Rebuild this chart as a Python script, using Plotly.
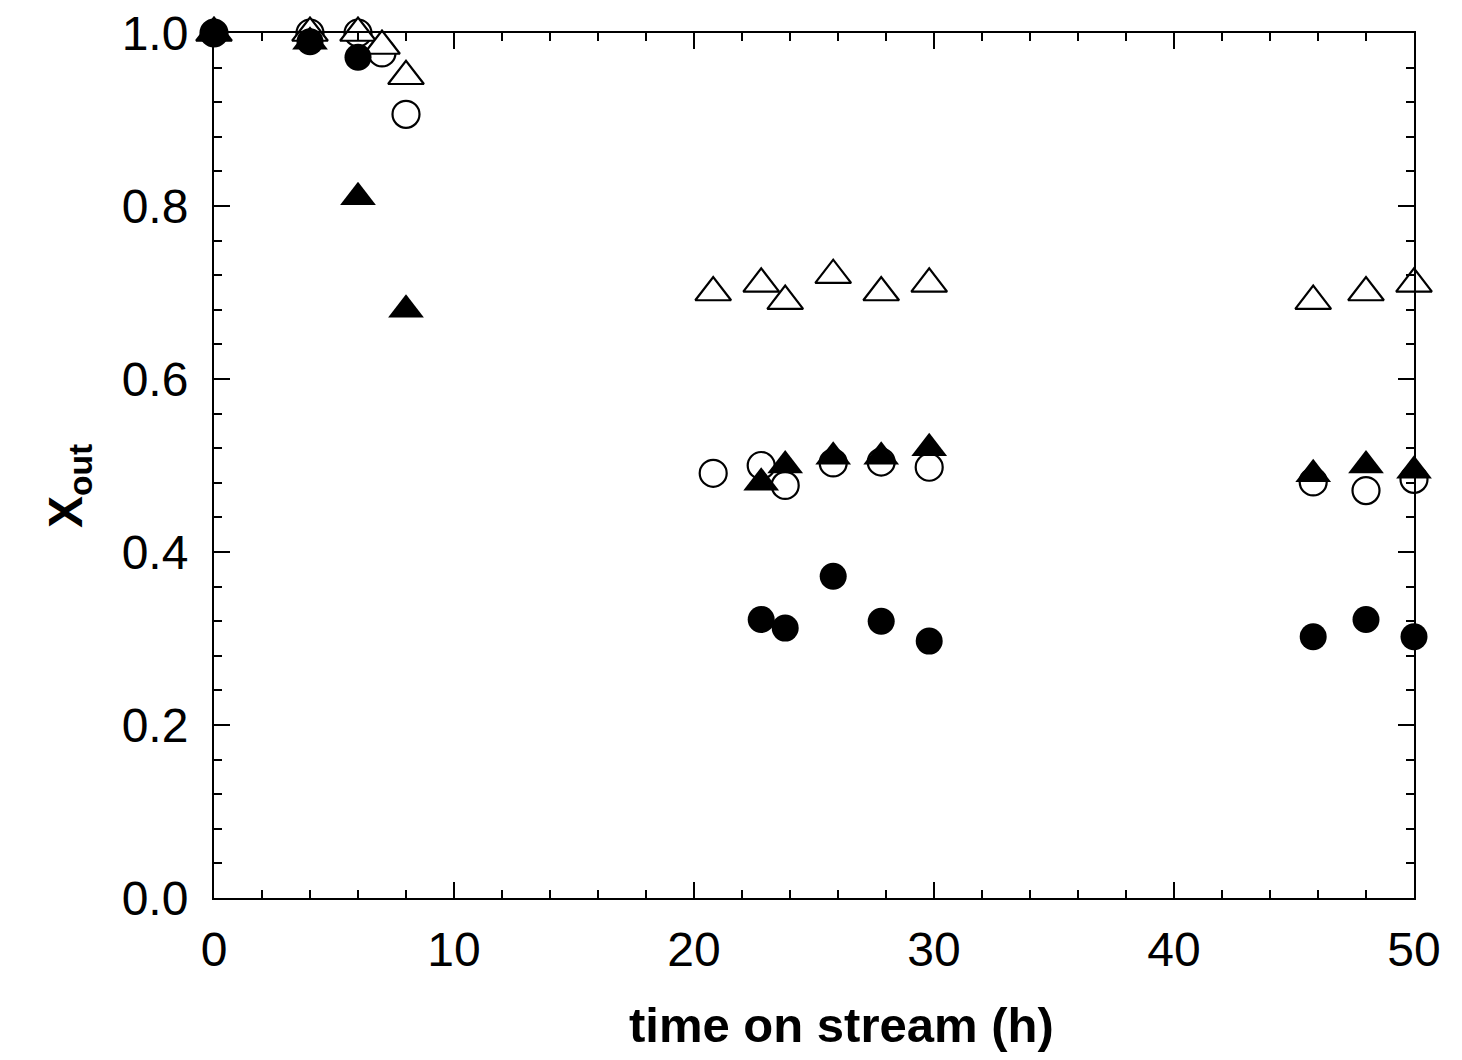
import plotly.graph_objects as go

# Data
t_fc = [0, 4, 6, 22.8, 23.8, 25.8, 27.8, 29.8, 45.8, 48, 50]
y_fc = [1.0, 0.99, 0.972, 0.322, 0.312, 0.372, 0.320, 0.297, 0.302, 0.322, 0.302]

t_oc = [0, 4, 6, 7, 8, 20.8, 22.8, 23.8, 25.8, 27.8, 29.8, 45.8, 48, 50]
y_oc = [1.0, 1.0, 1.0, 0.977, 0.906, 0.491, 0.500, 0.477, 0.503, 0.504, 0.498, 0.481, 0.471, 0.484]

t_ft = [0, 4, 6, 8, 22.8, 23.8, 25.8, 27.8, 29.8, 45.8, 48, 50]
y_ft = [1.0, 0.99, 0.81, 0.68, 0.480, 0.500, 0.510, 0.510, 0.520, 0.490, 0.500, 0.494]

t_ot = [0, 4, 6, 7, 8, 20.8, 22.8, 23.8, 25.8, 27.8, 29.8, 45.8, 48, 50]
y_ot = [1.0, 1.0, 1.0, 0.985, 0.950, 0.700, 0.710, 0.690, 0.720, 0.700, 0.710, 0.690, 0.700, 0.710]

x_ticks = [0, 10, 20, 30, 40, 50]
y_ticks = [0.0, 0.2, 0.4, 0.6, 0.8, 1.0]
y_ticklabels = ["0.0", "0.2", "0.4", "0.6", "0.8", "1.0"]
x_title = "<b>time on stream (h)</b>"
y_title = "<b>X<sub>out</sub></b>"

CIRC = 27
TRI = 31

fig = go.Figure()
fig.add_trace(go.Scatter(x=t_oc, y=y_oc, mode="markers", cliponaxis=False,
                         marker=dict(symbol="circle", size=CIRC, color="white",
                                     line=dict(color="black", width=2.2))))
fig.add_trace(go.Scatter(x=t_ot, y=y_ot, mode="markers", cliponaxis=False,
                         marker=dict(symbol="triangle-up", size=TRI, color="white",
                                     line=dict(color="black", width=2.2))))
fig.add_trace(go.Scatter(x=t_fc, y=y_fc, mode="markers", cliponaxis=False,
                         marker=dict(symbol="circle", size=CIRC, color="black",
                                     line=dict(color="black", width=0))))
fig.add_trace(go.Scatter(x=t_ft, y=y_ft, mode="markers", cliponaxis=False,
                         marker=dict(symbol="triangle-up", size=TRI, color="black",
                                     line=dict(color="black", width=0))))

axis_common = dict(showgrid=False, zeroline=False, showline=True, linecolor="black",
                   linewidth=2, mirror="allticks", ticks="inside", ticklen=16,
                   tickwidth=2, tickcolor="black", automargin=False,
                   tickfont=dict(family="Liberation Sans, Arial", size=48, color="black"))

fig.update_xaxes(range=[0, 50], tickvals=x_ticks, ticklabelstandoff=8,
                 minor=dict(dtick=2, ticks="inside", ticklen=8, tickwidth=1.5, tickcolor="black"),
                 **axis_common)
fig.update_yaxes(range=[0, 1.0], tickvals=y_ticks, ticktext=y_ticklabels, ticklabelstandoff=14,
                 minor=dict(dtick=0.04, ticks="inside", ticklen=8, tickwidth=1.5, tickcolor="black"),
                 **axis_common)

fig.add_annotation(text=x_title, xref="paper", yref="paper", x=0.523, y=-0.147,
                   xanchor="center", yanchor="middle", showarrow=False,
                   font=dict(family="Liberation Sans, Arial", size=49, color="black"))
fig.add_annotation(text=y_title, xref="paper", yref="paper", x=-0.121, y=0.476,
                   xanchor="center", yanchor="middle", showarrow=False, textangle=-90,
                   font=dict(family="Liberation Sans, Arial", size=48, color="black"))

fig.update_layout(width=1462, height=1060, showlegend=False,
                  plot_bgcolor="white", paper_bgcolor="white",
                  margin=dict(l=214, r=48, t=33, b=162))

fig.write_html("out.html")
